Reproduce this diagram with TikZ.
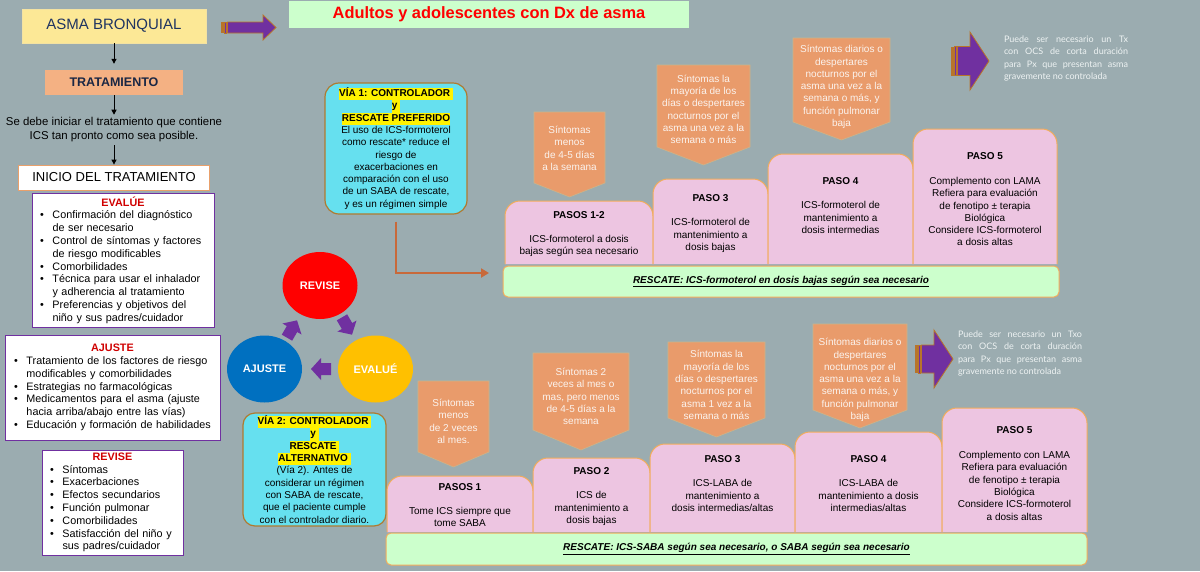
\documentclass[tikz,border=0pt]{standalone}
\usepackage{fontspec}
\setmainfont{Liberation Sans}
\newfontfamily\notefont{Lato}
\usetikzlibrary{arrows.meta,shapes.geometric}

\definecolor{bgcol}{HTML}{9BACB0}
\definecolor{asmayellow}{HTML}{FCE896}
\definecolor{asmaedge}{HTML}{F3E2A2}
\definecolor{asmanavy}{HTML}{1F3461}
\definecolor{tratsalmon}{HTML}{F4B183}
\definecolor{tratnavy}{HTML}{1A2744}
\definecolor{inicioedge}{HTML}{E9A06B}
\definecolor{listpurple}{HTML}{7030A0}
\definecolor{headred}{HTML}{D00000}
\definecolor{titlegreen}{HTML}{CCFFCC}
\definecolor{titlered}{HTML}{FF0000}
\definecolor{revred}{HTML}{FF0000}
\definecolor{ajublue}{HTML}{0070C0}
\definecolor{evayellow}{HTML}{FFC000}
\definecolor{viacyan}{HTML}{66E0EF}
\definecolor{viaedge}{HTML}{B07A2F}
\definecolor{linkorange}{HTML}{C8693A}
\definecolor{steppink}{HTML}{EDC5E1}
\definecolor{stepedge}{HTML}{F2AC5C}
\definecolor{rescgreen}{HTML}{CCFFCC}
\definecolor{calloutorange}{HTML}{E99B6B}
\definecolor{calloutedge}{HTML}{C9B58C}
\definecolor{calltext}{HTML}{FBF3EE}
\definecolor{notewhite}{HTML}{EEF3F3}
\definecolor{arrowpurple}{HTML}{7030A0}
\definecolor{arrowedge}{HTML}{B8742A}

\newcommand\bitem[1]{\par\hangindent=12.5pt\hangafter=1\noindent\makebox[12.5pt][l]{\textbullet}#1\par}
\newcommand\listhead[1]{\centerline{\textcolor{headred}{\bfseries #1}}}
\newcommand\marca[1]{{\setlength\fboxsep{0pt}\colorbox{yellow}{\bfseries\strut #1}}}
\newcommand\stepshape[4]{\path[stepline] (#1,#4) -- (#1,#2) -- (#3,#2) -- (#3,#4);}
\newcommand\callout[5]{\path[calloutfill] (#1,#2) -- (#3,#2) -- (#3,#4) -- ({(#1+#3)/2},#5) -- (#1,#4) -- cycle;}
\newcommand\stripedarrow[6]{%
  \fill[arrowedge] (#1,{#4-#5}) rectangle ({#1+2.5},{#4+#5});
  \path[arrowbody] ({#1+3.5},{#4-#5}) rectangle ({#1+5.5},{#4+#5});
  \path[arrowbody] ({#1+6.5},{#4-#5}) -- (#2,{#4-#5}) -- (#2,{#4-#6}) -- (#3,#4)
    -- (#2,{#4+#6}) -- (#2,{#4+#5}) -- ({#1+6.5},{#4+#5}) -- cycle;}
\newcommand\cyclearrow[3]{\fill[arrowpurple, shift={(#1,#2)}, rotate=#3]
  (-10,-6) -- (0,-6) -- (0,-11) -- (10,0) -- (0,11) -- (0,6) -- (-10,6) -- cycle;}

\tikzset{
  every node/.style={inner sep=0pt, font=\fontsize{10}{12.3}\selectfont},
  asmabox/.style={draw=asmaedge, fill=asmayellow, minimum width=184pt, minimum height=34pt, text=asmanavy, font=\fontsize{15}{18}\selectfont},
  tratbox/.style={fill=tratsalmon, minimum width=138pt, minimum height=25pt, text=tratnavy, font=\bfseries\fontsize{12.5}{15}\selectfont},
  plaintext/.style={align=center, font=\fontsize{11.4}{14.5}\selectfont},
  iniciobox/.style={draw=inicioedge, line width=0.8pt, fill=white, minimum width=191pt, minimum height=25pt, font=\fontsize{13}{15}\selectfont},
  downarrow/.style={line width=1pt, -{Triangle[length=5pt,width=5pt]}},
  listbox/.style={draw=listpurple, line width=1pt, fill=white, align=left, font=\fontsize{10.8}{12.8}\selectfont},
  titlebox/.style={fill=titlegreen, minimum width=400pt, minimum height=27pt, text=titlered, font=\bfseries\fontsize{16.4}{19}\selectfont},
  cyclenode/.style={ellipse, minimum width=75pt, minimum height=67pt, text=white, font=\bfseries\fontsize{11}{13}\selectfont},
  viabox/.style={draw=viaedge, line width=1.2pt, fill=viacyan, rounded corners=14pt, align=center},
  linkline/.style={draw=linkorange, line width=2.2pt, -{Triangle[length=8pt,width=9pt]}},
  stepline/.style={draw=stepedge, line width=1pt, fill=steppink, rounded corners=15pt},
  steptext/.style={align=center},
  rescbox/.style={draw=stepedge, line width=1pt, fill=rescgreen, rounded corners=5pt, font=\bfseries\itshape\fontsize{10}{12}\selectfont},
  calloutfill/.style={fill=calloutorange, draw=calloutedge, line width=0.6pt},
  callouttext/.style={align=center, text=calltext},
  notetext/.style={text width=124pt, align=justify, text=notewhite, font=\notefont\fontsize{9}{12.3}\selectfont},
  arrowbody/.style={fill=arrowpurple, draw=arrowedge, line width=0.8pt}
}

\begin{document}
\begin{tikzpicture}[x=1pt,y=-1pt]
\useasboundingbox (0,0) rectangle (1200,571);
\fill[bgcol] (0,0) rectangle (1200,571);

\node[asmabox] (asma) at (114,26) {ASMA BRONQUIAL};
\node[tratbox] (trat) at (114,82.5) {TRATAMIENTO};
\node[plaintext] (inicia) at (114,129.5) {Se debe iniciar el tratamiento que contiene\\ICS tan pronto como sea posible.};
\node[iniciobox] (inicio) at (114,177.5) {INICIO DEL TRATAMIENTO};
\draw[downarrow, shorten >=6pt] (asma.south) -- (trat.north);
\draw[downarrow, shorten >=2pt] (trat.south) -- (inicia.north);
\draw[downarrow, shorten <=3pt] (inicia.south) -- (inicio.north);

\node[listbox, minimum width=182pt, minimum height=134pt, text width=166pt] (evalbox) at (123,260) {%
  \listhead{EVALÚE}
  \bitem{Confirmación del diagnóstico\newline de ser necesario}
  \bitem{Control de síntomas y factores\newline de riesgo modificables}
  \bitem{Comorbilidades}
  \bitem{Técnica para usar el inhalador\newline y adherencia al tratamiento}
  \bitem{Preferencias y objetivos del\newline niño y sus padres/cuidador}};
\node[listbox, minimum width=215pt, minimum height=105pt, text width=197pt] (ajubox) at (112.5,387.5) {%
  \listhead{AJUSTE}
  \bitem{Tratamiento de los factores de riesgo\newline modificables y comorbilidades}
  \bitem{Estrategias no farmacológicas}
  \bitem{Medicamentos para el asma (ajuste\newline hacia arriba/abajo entre las vías)}
  \bitem{Educación y formación de habilidades}};
\node[listbox, minimum width=141pt, minimum height=105pt, text width=125pt] (revbox) at (112.5,502.5) {%
  \listhead{REVISE}
  \bitem{Síntomas}
  \bitem{Exacerbaciones}
  \bitem{Efectos secundarios}
  \bitem{Función pulmonar}
  \bitem{Comorbilidades}
  \bitem{Satisfacción del niño y\newline sus padres/cuidador}};

\stripedarrow{221}{263}{276}{27.5}{5.5}{12.5}
\node[titlebox] (titulo) at (489,14.5) {Adultos y adolescentes con Dx de asma};

\node[cyclenode, fill=revred] (revc) at (320,285.5) {REVISE};
\node[cyclenode, fill=ajublue] (ajuc) at (264.5,369) {AJUSTE};
\node[cyclenode, fill=evayellow] (evac) at (375.5,369) {EVALUÉ};
\cyclearrow{347}{326}{-60}
\cyclearrow{321}{369}{180}
\cyclearrow{292}{329}{60}

\node[viabox, minimum width=142pt, minimum height=131pt] (via1) at (396,148.5) {%
  \marca{VÍA 1: CONTROLADOR\ }\\\marca{y\ }\\\marca{RESCATE PREFERIDO}\\
  El uso de ICS-formoterol\\como rescate* reduce el\\riesgo de\\exacerbaciones en\\
  comparación con el uso\\de un SABA de rescate,\\y es un régimen simple};
\node[viabox, rounded corners=12pt, minimum width=143pt, minimum height=113pt] (via2) at (314.5,469.5) {%
  \marca{VÍA 2: CONTROLADOR\ }\\\marca{y\ }\\\marca{RESCATE\ }\\\marca{ALTERNATIVO\ }\\
  (Vía 2). Antes de\\considerar un régimen\\con SABA de rescate,\\que el paciente cumple\\con el controlador diario.};

\coordinate (pasoin) at (489,273);
\draw[linkline, shorten <=7pt] (via1.south) |- (pasoin);

\callout{534}{112}{605}{183}{197}
\node[callouttext] (ct1) at (569.5,148.5) {Síntomas\\menos\\de 4-5 días\\a la semana};
\callout{657}{65}{750}{147}{165}
\node[callouttext] (ct2) at (703.5,109.5) {Síntomas la\\mayoría de los\\días o despertares\\nocturnos por el\\asma una vez a la\\semana o más};
\callout{793}{38}{890}{122}{140}
\node[callouttext] (ct3) at (841.5,87) {Síntomas diarios o\\despertares\\nocturnos por el\\asma una vez a la\\semana o más, y\\función pulmonar\\baja};

\stepshape{505}{201}{653}{264}
\node[steptext] (s12) at (579,234) {\textbf{PASOS 1-2}\\[12.3pt]ICS-formoterol a dosis\\bajas según sea necesario};
\stepshape{653}{179}{768}{264}
\node[steptext] (s3) at (710.5,223.5) {\textbf{PASO 3}\\[12.3pt]ICS-formoterol de\\mantenimiento a\\dosis bajas};
\stepshape{768}{154}{913}{264}
\node[steptext] (s4) at (840.5,205.5) {\textbf{PASO 4}\\[12.3pt]ICS-formoterol de\\mantenimiento a\\dosis intermedias};
\stepshape{913}{129}{1057}{264}
\node[steptext] (s5) at (985,199.5) {\textbf{PASO 5}\\[12.3pt]Complemento con LAMA\\Refiera para evaluación\\de fenotipo ± terapia\\Biológica\\Considere ICS-formoterol\\a dosis altas};
\node[rescbox, minimum width=556pt, minimum height=31pt] (resc1) at (781,281.5) {\underline{RESCATE: ICS-formoterol en dosis bajas según sea necesario}};

\stripedarrow{951}{970}{989}{61}{14.5}{29}
\node[notetext] (nota1) at (1066,58.5) {Puede ser necesario un Tx\linebreak con OCS de corta duración\linebreak para Px que presentan asma\linebreak gravemente no controlada};

\callout{418}{381}{489}{452}{467}
\node[callouttext] (cb1) at (453.5,421.5) {Síntomas\\menos\\de 2 veces\\al mes.};
\callout{533}{353}{629}{430}{450}
\node[callouttext] (cb2) at (581,396.5) {Síntomas 2\\veces al mes o\\mas, pero menos\\de 4-5 días a la\\semana};
\callout{668}{342}{765}{418}{437}
\node[callouttext] (cb3) at (716.5,385) {Síntomas la\\mayoría de los\\días o despertares\\nocturnos por el\\asma 1 vez a la\\semana o más};
\callout{813}{324}{907}{410}{428}
\node[callouttext] (cb4) at (860,380) {Síntomas diarios o\\despertares\\nocturnos por el\\asma una vez a la\\semana o más, y\\función pulmonar\\baja};

\stepshape{387}{476}{533}{532}
\node[steptext] (b1) at (460,505) {\textbf{PASOS 1}\\[12.3pt]Tome ICS siempre que\\tome SABA};
\stepshape{533}{458}{650}{532}
\node[steptext] (b2) at (591.5,496.5) {\textbf{PASO 2}\\[12.3pt]ICS de\\mantenimiento a\\dosis bajas};
\stepshape{650}{444}{795}{532}
\node[steptext] (b3) at (722.5,483.5) {\textbf{PASO 3}\\[12.3pt]ICS-LABA de\\mantenimiento a\\dosis intermedias/altas};
\stepshape{795}{432}{942}{532}
\node[steptext] (b4) at (868.5,483.5) {\textbf{PASO 4}\\[12.3pt]ICS-LABA de\\mantenimiento a dosis\\intermedias/altas};
\stepshape{942}{408}{1087}{532}
\node[steptext] (b5) at (1014.5,473.5) {\textbf{PASO 5}\\[12.3pt]Complemento con LAMA\\Refiera para evaluación\\de fenotipo ± terapia\\Biológica\\Considere ICS-formoterol\\a dosis altas};
\node[rescbox, minimum width=701pt, minimum height=32pt] (resc2) at (736.5,549) {\underline{RESCATE: ICS-SABA según sea necesario, o SABA según sea necesario}};

\stripedarrow{915}{934}{953}{359}{14}{29}
\node[notetext] (nota2) at (1020,353.5) {Puede ser necesario un Txo\linebreak con OCS de corta duración\linebreak para Px que presentan asma\linebreak gravemente no controlada};
\end{tikzpicture}
\end{document}
